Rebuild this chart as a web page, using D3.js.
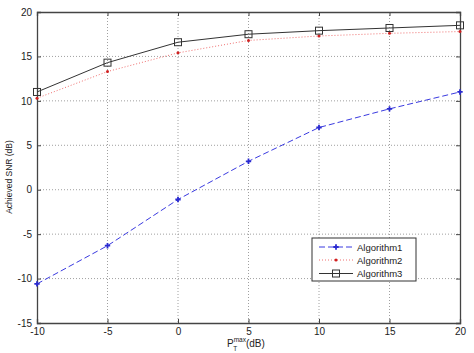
<!DOCTYPE html>
<html>
<head>
<meta charset="utf-8">
<script src="https://cdn.jsdelivr.net/npm/d3@7"></script>
<style>
  body { margin: 0; background: #fff; }
  text { font-family: "Liberation Sans", Arial, sans-serif; }
</style>
</head>
<body>
<div id="chart"></div>
<script>
// data
const xValues = [-10, -5, 0, 5, 10, 15, 20];
const algorithm1 = [-10.6, -6.3, -1.1, 3.2, 7.0, 9.1, 11.0];
const algorithm2 = [10.3, 13.3, 15.4, 16.8, 17.3, 17.6, 17.8];
const algorithm3 = [11.0, 14.3, 16.6, 17.5, 17.9, 18.2, 18.5];
const seriesNames = ["Algorithm1", "Algorithm2", "Algorithm3"];
const xTicks = [-10, -5, 0, 5, 10, 15, 20];
const yTicks = [-15, -10, -5, 0, 5, 10, 15, 20];

const width = 474, height = 353;
const margin = {top: 12, right: 14, bottom: 30, left: 37};
const innerW = width - margin.left - margin.right;
const innerH = height - margin.top - margin.bottom;

const svg = d3.select("#chart").append("svg")
    .attr("width", width)
    .attr("height", height);

const g = svg.append("g")
    .attr("transform", "translate(" + margin.left + "," + margin.top + ")");

const x = d3.scaleLinear().domain([-10, 20]).range([0, innerW]);
const y = d3.scaleLinear().domain([-15, 20]).range([innerH, 0]);

// grid
g.selectAll(".vgrid")
    .data(xTicks.slice(1, -1))
    .enter().append("line")
    .attr("x1", d => x(d)).attr("x2", d => x(d))
    .attr("y1", 0).attr("y2", innerH)
    .attr("stroke", "#888")
    .attr("stroke-width", 0.8)
    .attr("stroke-dasharray", "1,2");

g.selectAll(".hgrid")
    .data(yTicks.slice(1, -1))
    .enter().append("line")
    .attr("x1", 0).attr("x2", innerW)
    .attr("y1", d => y(d)).attr("y2", d => y(d))
    .attr("stroke", "#888")
    .attr("stroke-width", 0.8)
    .attr("stroke-dasharray", "1,2");

// axes (ticks pointing inward, like matlab); plain hyphen for negatives
const fmt = d => String(d);
const xAxis = d3.axisBottom(x).tickValues(xTicks).tickSize(-4).tickPadding(5).tickFormat(fmt);
const yAxis = d3.axisLeft(y).tickValues(yTicks).tickSize(-4).tickPadding(5).tickFormat(fmt);

g.append("g")
    .attr("transform", "translate(0," + innerH + ")")
    .call(xAxis);
g.append("g").call(yAxis);

g.append("g").call(d3.axisTop(x).tickValues(xTicks).tickSize(-4).tickFormat(""));
g.append("g").attr("transform", "translate(" + innerW + ",0)")
    .call(d3.axisRight(y).tickValues(yTicks).tickSize(-4).tickFormat(""));

g.selectAll(".domain").attr("stroke", "#444").attr("stroke-width", 1.3);
g.selectAll(".tick line").attr("stroke", "#444");
g.selectAll(".tick text").attr("font-size", 10).attr("fill", "#222");

// lines
const line = d3.line()
    .x((d, i) => x(xValues[i]))
    .y(d => y(d));

g.append("path")
    .datum(algorithm1)
    .attr("fill", "none")
    .attr("stroke", "#3a3ae0")
    .attr("stroke-width", 1)
    .attr("stroke-dasharray", "6,3")
    .attr("d", line);

g.append("path")
    .datum(algorithm2)
    .attr("fill", "none")
    .attr("stroke", "#f07070")
    .attr("stroke-width", 1)
    .attr("stroke-dasharray", "1,2")
    .attr("d", line);

g.append("path")
    .datum(algorithm3)
    .attr("fill", "none")
    .attr("stroke", "#333")
    .attr("stroke-width", 1)
    .attr("d", line);

// markers
g.selectAll(".m1")
    .data(algorithm1)
    .enter().append("path")
    .attr("transform", (d, i) => "translate(" + x(xValues[i]) + "," + y(d) + ")")
    .attr("d", d3.symbol(d3.symbolCross, 16))
    .attr("fill", "#2a2ad0");

g.selectAll(".m2")
    .data(algorithm2)
    .enter().append("circle")
    .attr("cx", (d, i) => x(xValues[i]))
    .attr("cy", d => y(d))
    .attr("r", 1.5)
    .attr("fill", "#d02020");

g.selectAll(".m3")
    .data(algorithm3)
    .enter().append("rect")
    .attr("x", (d, i) => x(xValues[i]) - 3.5)
    .attr("y", d => y(d) - 3.5)
    .attr("width", 7)
    .attr("height", 7)
    .attr("fill", "none")
    .attr("stroke", "#333")
    .attr("stroke-width", 1);

// legend
const legend = g.append("g")
    .attr("transform", "translate(" + (312 - margin.left) + "," + (238 - margin.top) + ")");

legend.append("rect")
    .attr("width", 104)
    .attr("height", 43)
    .attr("fill", "#fff")
    .attr("stroke", "#333")
    .attr("stroke-width", 1);

const rowY = [9, 22, 35.5];
const styles = [
    {stroke: "#3a3ae0", dash: "6,3"},
    {stroke: "#f07070", dash: "1,2"},
    {stroke: "#333", dash: null}
];

seriesNames.forEach(function (name, i) {
    legend.append("line")
        .attr("x1", 7).attr("x2", 41)
        .attr("y1", rowY[i]).attr("y2", rowY[i])
        .attr("stroke", styles[i].stroke)
        .attr("stroke-width", 1)
        .attr("stroke-dasharray", styles[i].dash);
    legend.append("text")
        .attr("x", 45)
        .attr("y", rowY[i] + 3.5)
        .attr("font-size", 9.5)
        .attr("fill", "#222")
        .text(name);
});

legend.append("path")
    .attr("transform", "translate(24," + rowY[0] + ")")
    .attr("d", d3.symbol(d3.symbolCross, 16))
    .attr("fill", "#2a2ad0");
legend.append("circle")
    .attr("cx", 24).attr("cy", rowY[1]).attr("r", 1.5)
    .attr("fill", "#d02020");
legend.append("rect")
    .attr("x", 20.5).attr("y", rowY[2] - 3.5)
    .attr("width", 7).attr("height", 7)
    .attr("fill", "none").attr("stroke", "#333");

// axis titles
svg.append("text")
    .attr("transform", "translate(12," + 177 + ") rotate(-90)")
    .attr("text-anchor", "middle")
    .attr("font-size", 8.5)
    .attr("fill", "#222")
    .text("Achieved SNR (dB)");

const xLabel = svg.append("text")
    .attr("x", 227)
    .attr("y", 347)
    .attr("font-size", 10)
    .attr("fill", "#222");
xLabel.append("tspan").text("P");
xLabel.append("tspan").attr("font-size", 6.5).attr("dy", 4).attr("dx", -0.5).text("T");
xLabel.append("tspan").attr("font-size", 6.5).attr("dy", -9).attr("dx", -3.5).text("max");
xLabel.append("tspan").attr("dy", 5).text("(dB)");
</script>
</body>
</html>
